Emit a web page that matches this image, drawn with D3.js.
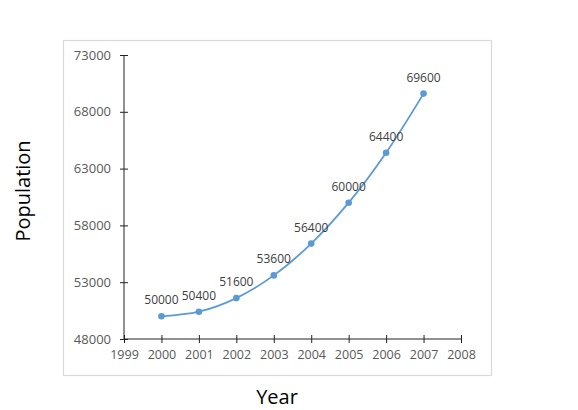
<!DOCTYPE html>
<html>
<head>
<meta charset="utf-8">
<script src="https://cdn.jsdelivr.net/npm/d3@7"></script>
<style>
  body { margin: 0; background: #fff; }
  svg { display: block; }
</style>
</head>
<body>
<div id="chart"></div>
<script>
// Data
var years = [2000, 2001, 2002, 2003, 2004, 2005, 2006, 2007];
var population = [50000, 50400, 51600, 53600, 56400, 60000, 64400, 69600];
var yTicks = [48000, 53000, 58000, 63000, 68000, 73000];
var xTicks = [1999, 2000, 2001, 2002, 2003, 2004, 2005, 2006, 2007, 2008];

// Colors
var lineColor = "#5b9bd5";
var tickColor = "#595959";
var labelColor = "#404040";

var svg = d3.select("#chart")
    .append("svg")
    .attr("width", 578)
    .attr("height", 410);

// plot frame
svg.append("rect")
    .attr("x", 63.5)
    .attr("y", 40.5)
    .attr("width", 428)
    .attr("height", 335)
    .attr("fill", "#fff")
    .attr("stroke", "#d9d9d9")
    .attr("stroke-width", 1.2);

var x = d3.scaleLinear().domain([1999, 2008]).range([124, 461]);
var y = d3.scaleLinear().domain([48000, 73000]).range([339, 55]);

// y axis
var yAxis = svg.append("g")
    .attr("transform", "translate(124,0)")
    .call(d3.axisLeft(y).tickValues(yTicks).tickFormat(d3.format("d")).tickSize(4).tickPadding(9));
yAxis.selectAll(".tick line").attr("x2", 4).attr("x1", -4).attr("stroke", "#222");
yAxis.select(".domain").attr("stroke", "#222").attr("d", "M0,55V339");
yAxis.selectAll("text")
    .attr("fill", tickColor)
    .style("font-family", "'Open Sans', sans-serif")
    .style("font-size", "13px");

// x axis
var xAxis = svg.append("g")
    .attr("transform", "translate(0,339)")
    .call(d3.axisBottom(x).tickValues(xTicks).tickFormat(d3.format("d")).tickSize(4).tickPadding(7));
xAxis.selectAll(".tick line").attr("y1", -4).attr("y2", 4).attr("stroke", "#222");
xAxis.select(".domain").attr("stroke", "#222").attr("d", "M124,0H461");
xAxis.selectAll("text")
    .attr("fill", tickColor)
    .style("font-family", "'Open Sans', sans-serif")
    .style("font-size", "12.5px");

// line
var data = years.map(function (d, i) { return {year: d, value: population[i]}; });

svg.append("path")
    .datum(data)
    .attr("fill", "none")
    .attr("stroke", lineColor)
    .attr("stroke-width", 1.8)
    .attr("d", d3.line()
        .curve(d3.curveCatmullRom.alpha(0.5))
        .x(function (d) { return x(d.year); })
        .y(function (d) { return y(d.value); }));

svg.selectAll(".dot")
    .data(data)
    .enter().append("circle")
    .attr("class", "dot")
    .attr("cx", function (d) { return x(d.year); })
    .attr("cy", function (d) { return y(d.value); })
    .attr("r", 3.3)
    .attr("fill", lineColor);

// data labels
svg.selectAll(".val")
    .data(data)
    .enter().append("text")
    .attr("class", "val")
    .attr("x", function (d) { return x(d.year); })
    .attr("y", function (d) { return y(d.value) - 12; })
    .attr("text-anchor", "middle")
    .attr("fill", labelColor)
    .style("font-family", "'Open Sans', sans-serif")
    .style("font-size", "12px")
    .text(function (d) { return d.value; });

// axis titles
svg.append("text")
    .attr("transform", "translate(30,191) rotate(-90)")
    .attr("text-anchor", "middle")
    .attr("fill", "#000")
    .style("font-family", "'Open Sans', sans-serif")
    .style("font-size", "20px")
    .text("Population");

svg.append("text")
    .attr("x", 277)
    .attr("y", 404)
    .attr("text-anchor", "middle")
    .attr("fill", "#000")
    .style("font-family", "'Open Sans', sans-serif")
    .style("font-size", "20px")
    .text("Year");
</script>
</body>
</html>
